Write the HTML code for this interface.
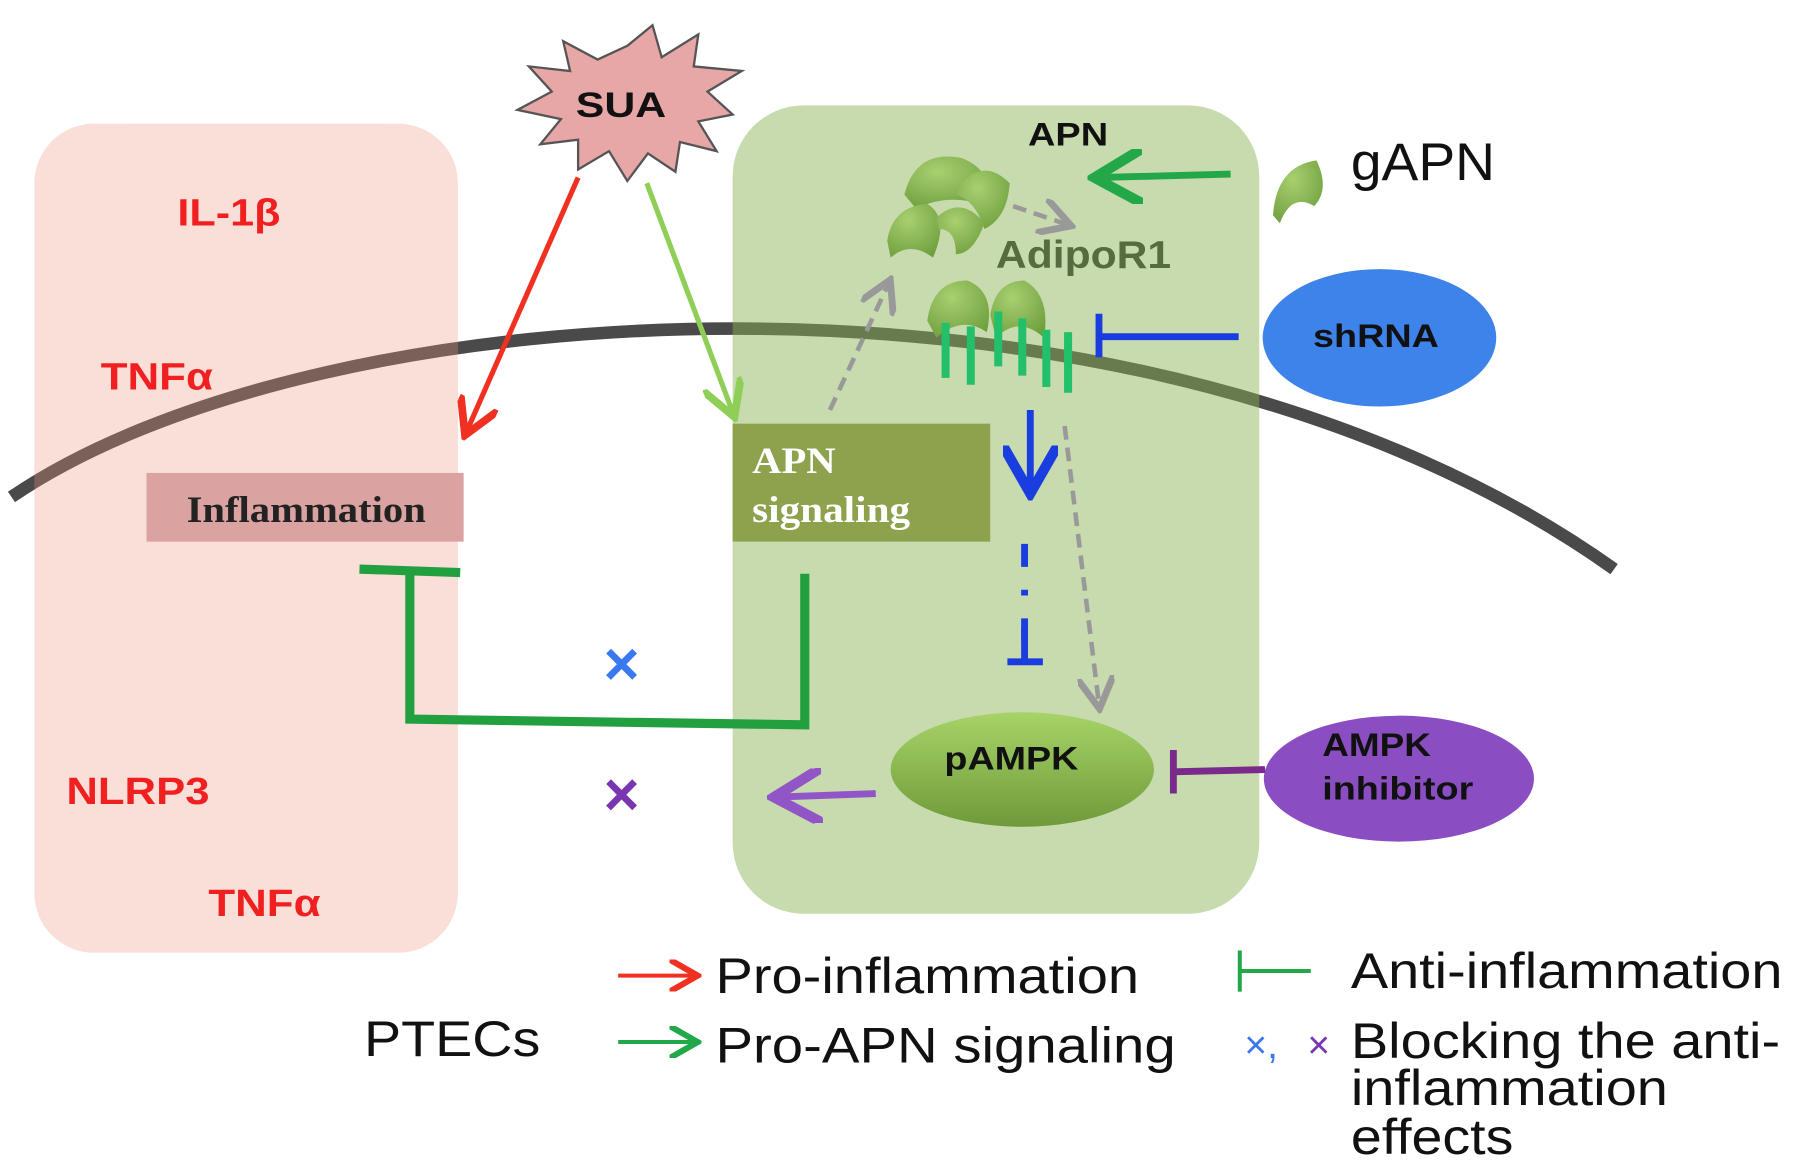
<!DOCTYPE html>
<html><head><meta charset="utf-8"><style>html,body{margin:0;padding:0;background:#fff}svg{display:block}</style></head>
<body>
<svg width="1795" height="1168" viewBox="0 0 1568 1020" preserveAspectRatio="none" xmlns="http://www.w3.org/2000/svg" font-family="Liberation Sans, sans-serif">
<defs>
<marker id="ar" markerWidth="8" markerHeight="8" refX="6" refY="4" orient="auto" markerUnits="strokeWidth"><path d="M0,0 L7,4 L0,8" fill="none" stroke="context-stroke" stroke-width="1.5"/></marker>
<linearGradient id="pg" x1="0" y1="0" x2="0" y2="1"><stop offset="0" stop-color="#a6d468"/><stop offset="1" stop-color="#6f9a3a"/></linearGradient>
<radialGradient id="lf" cx="0.4" cy="0.3" r="0.8"><stop offset="0" stop-color="#a8d070"/><stop offset="1" stop-color="#6e9e3c"/></radialGradient>
</defs>
<!-- membrane -->
<path d="M10,434 C 280,250 1000,205 1410,497" fill="none" stroke="#4a4a4a" stroke-width="11"/>
<!-- boxes -->
<rect x="30" y="108" width="370" height="724" rx="52" fill="rgb(238,150,128)" opacity="0.3"/>
<rect x="640" y="92" width="460" height="706" rx="62" fill="rgb(135,178,83)" opacity="0.47"/>
<!-- SUA star -->
<polygon points="548,40 570,22 578,50 610,30 606,58 648,62 618,80 640,100 610,106 626,132 594,124 590,150 566,134 548,158 532,132 505,148 505,122 472,126 490,104 452,96 482,80 462,58 498,62 492,36 522,52" fill="#e8a7a7" stroke="#555" stroke-width="2"/>
<text x="503" y="102" font-size="31" font-weight="bold" fill="#111" textLength="79" lengthAdjust="spacingAndGlyphs">SUA</text>
<!-- red labels -->
<g fill="#f02020" font-weight="bold" font-size="33">
<text x="155" y="197" textLength="90" lengthAdjust="spacingAndGlyphs">IL-1β</text>
<text x="88" y="340" textLength="98" lengthAdjust="spacingAndGlyphs">TNFα</text>
<text x="58" y="702" textLength="125" lengthAdjust="spacingAndGlyphs">NLRP3</text>
<text x="182" y="800" textLength="98" lengthAdjust="spacingAndGlyphs">TNFα</text>
</g>
<!-- arrows from SUA -->
<line x1="505" y1="155" x2="408" y2="376" stroke="#f03020" stroke-width="4.5" marker-end="url(#ar)"/>
<line x1="565" y1="160" x2="640" y2="360" stroke="#8fcf58" stroke-width="4.5" marker-end="url(#ar)"/>
<!-- Inflammation -->
<rect x="128" y="413" width="277" height="60" fill="#dba2a2"/>
<text x="163" y="456" font-family="Liberation Serif, serif" font-weight="bold" font-size="32" fill="#222" textLength="209" lengthAdjust="spacingAndGlyphs">Inflammation</text>
<!-- APN signaling -->
<rect x="640" y="370" width="225" height="103" fill="#8ea24e"/>
<text x="657" y="413" font-family="Liberation Serif, serif" font-weight="bold" font-size="32" fill="#fff" textLength="73" lengthAdjust="spacingAndGlyphs">APN</text>
<text x="657" y="456" font-family="Liberation Serif, serif" font-weight="bold" font-size="32" fill="#fff" textLength="138" lengthAdjust="spacingAndGlyphs">signaling</text>
<!-- green inhibition -->
<polyline points="703,501 703,633 358,628 358,498" fill="none" stroke="#22a040" stroke-width="8"/>
<line x1="314" y1="497" x2="402" y2="500" stroke="#22a040" stroke-width="8"/>
<!-- x marks -->
<text x="543" y="598" font-size="54" font-weight="bold" fill="#3a78f0" text-anchor="middle">×</text>
<text x="543" y="712" font-size="54" font-weight="bold" fill="#7a35b0" text-anchor="middle">×</text>
<!-- APN leaves -->
<g fill="url(#lf)">
<path d="M790,170 Q800,130 840,138 Q870,150 862,180 Q830,168 800,182 Z"/>
<path d="M840,160 Q860,138 882,160 Q880,190 860,200 Q852,175 835,170 Z"/>
<path d="M775,210 Q780,180 810,178 Q830,190 815,225 Q795,210 778,225 Z"/>
<path d="M818,190 Q840,170 860,195 Q850,222 835,222 Q835,200 820,200 Z"/>
<path d="M1112,188 Q1115,145 1150,140 Q1162,165 1148,180 Q1128,168 1118,195 Z"/>
<path d="M810,280 Q815,245 845,245 Q870,255 862,290 Q840,275 818,295 Z"/>
<path d="M865,275 Q870,245 895,245 Q918,258 912,295 Q890,275 870,295 Z"/>
</g>
<text x="898" y="127" font-size="28" font-weight="bold" fill="#111" textLength="70" lengthAdjust="spacingAndGlyphs">APN</text>
<text x="870" y="234" font-size="34" font-weight="bold" fill="#566b3f" textLength="153" lengthAdjust="spacingAndGlyphs">AdipoR1</text>
<text x="1180" y="157" font-size="46" fill="#111" textLength="126" lengthAdjust="spacingAndGlyphs">gAPN</text>
<line x1="1075" y1="152" x2="962" y2="155" stroke="#22a848" stroke-width="6" marker-end="url(#ar)"/>
<!-- gray dashed -->
<g stroke="#999" stroke-width="4" stroke-dasharray="12,7" fill="none">
<line x1="885" y1="180" x2="932" y2="196" marker-end="url(#ar)"/>
<line x1="725" y1="358" x2="776" y2="248" marker-end="url(#ar)"/>
<line x1="930" y1="372" x2="960" y2="615" marker-end="url(#ar)"/>
</g>
<!-- receptor bars -->
<g stroke="#22c06a" stroke-width="7">
<line x1="826" y1="282" x2="826" y2="330"/>
<line x1="848" y1="285" x2="848" y2="336"/>
<line x1="872" y1="272" x2="872" y2="320"/>
<line x1="893" y1="278" x2="893" y2="328"/>
<line x1="914" y1="288" x2="914" y2="338"/>
<line x1="933" y1="290" x2="933" y2="343"/>
</g>
<!-- shRNA -->
<ellipse cx="1205" cy="295" rx="102" ry="60" fill="#3d83ea"/>
<text x="1147" y="303" font-size="28" font-weight="bold" fill="#111" textLength="110" lengthAdjust="spacingAndGlyphs">shRNA</text>
<line x1="1082" y1="294" x2="960" y2="294" stroke="#1a3de0" stroke-width="6"/>
<line x1="960" y1="274" x2="960" y2="312" stroke="#1a3de0" stroke-width="6"/>
<!-- blue down arrow and dashed -->
<line x1="900" y1="358" x2="900" y2="425" stroke="#1a3de0" stroke-width="6" marker-end="url(#ar)"/>
<line x1="895" y1="475" x2="895" y2="575" stroke="#1a3de0" stroke-width="6" stroke-dasharray="20,20,5,20"/>
<line x1="895" y1="548" x2="895" y2="577" stroke="#1a3de0" stroke-width="6"/>
<line x1="880" y1="578" x2="911" y2="578" stroke="#1a3de0" stroke-width="6"/>
<!-- pAMPK -->
<ellipse cx="893" cy="672" rx="115" ry="50" fill="url(#pg)"/>
<text x="825" y="672" font-size="28" font-weight="bold" fill="#111" textLength="117" lengthAdjust="spacingAndGlyphs">pAMPK</text>
<line x1="765" y1="693" x2="682" y2="696" stroke="#9255c8" stroke-width="6" marker-end="url(#ar)"/>
<!-- AMPK inhibitor -->
<ellipse cx="1222" cy="680" rx="118" ry="55" fill="#8b4ec2"/>
<text x="1155" y="660" font-size="28" font-weight="bold" fill="#111" textLength="95" lengthAdjust="spacingAndGlyphs">AMPK</text>
<text x="1155" y="698" font-size="28" font-weight="bold" fill="#111" textLength="132" lengthAdjust="spacingAndGlyphs">inhibitor</text>
<line x1="1105" y1="672" x2="1025" y2="674" stroke="#7a2a8a" stroke-width="6"/>
<line x1="1025" y1="655" x2="1025" y2="693" stroke="#7a2a8a" stroke-width="6"/>
<!-- legend -->
<line x1="540" y1="852" x2="606" y2="852" stroke="#f03020" stroke-width="3.5" marker-end="url(#ar)"/>
<text x="625" y="867" font-size="44" fill="#111" textLength="370" lengthAdjust="spacingAndGlyphs">Pro-inflammation</text>
<line x1="540" y1="910" x2="606" y2="910" stroke="#22a848" stroke-width="3.5" marker-end="url(#ar)"/>
<text x="625" y="928" font-size="44" fill="#111" textLength="402" lengthAdjust="spacingAndGlyphs">Pro-APN signaling</text>
<text x="318" y="922" font-size="44" fill="#111" textLength="154" lengthAdjust="spacingAndGlyphs">PTECs</text>
<line x1="1083" y1="848" x2="1145" y2="848" stroke="#22a848" stroke-width="3.5"/>
<line x1="1083" y1="830" x2="1083" y2="866" stroke="#22a848" stroke-width="3.5"/>
<text x="1180" y="863" font-size="44" fill="#111" textLength="377" lengthAdjust="spacingAndGlyphs">Anti-inflammation</text>
<text x="1087" y="924" font-size="34" fill="#3a78f0">×,</text>
<text x="1142" y="924" font-size="34" fill="#7a35b0">×</text>
<text x="1180" y="924" font-size="44" fill="#111" textLength="375" lengthAdjust="spacingAndGlyphs">Blocking the anti-</text>
<text x="1180" y="965" font-size="44" fill="#111" textLength="277" lengthAdjust="spacingAndGlyphs">inflammation</text>
<text x="1180" y="1008" font-size="44" fill="#111" textLength="142" lengthAdjust="spacingAndGlyphs">effects</text>
</svg>
</body></html>
